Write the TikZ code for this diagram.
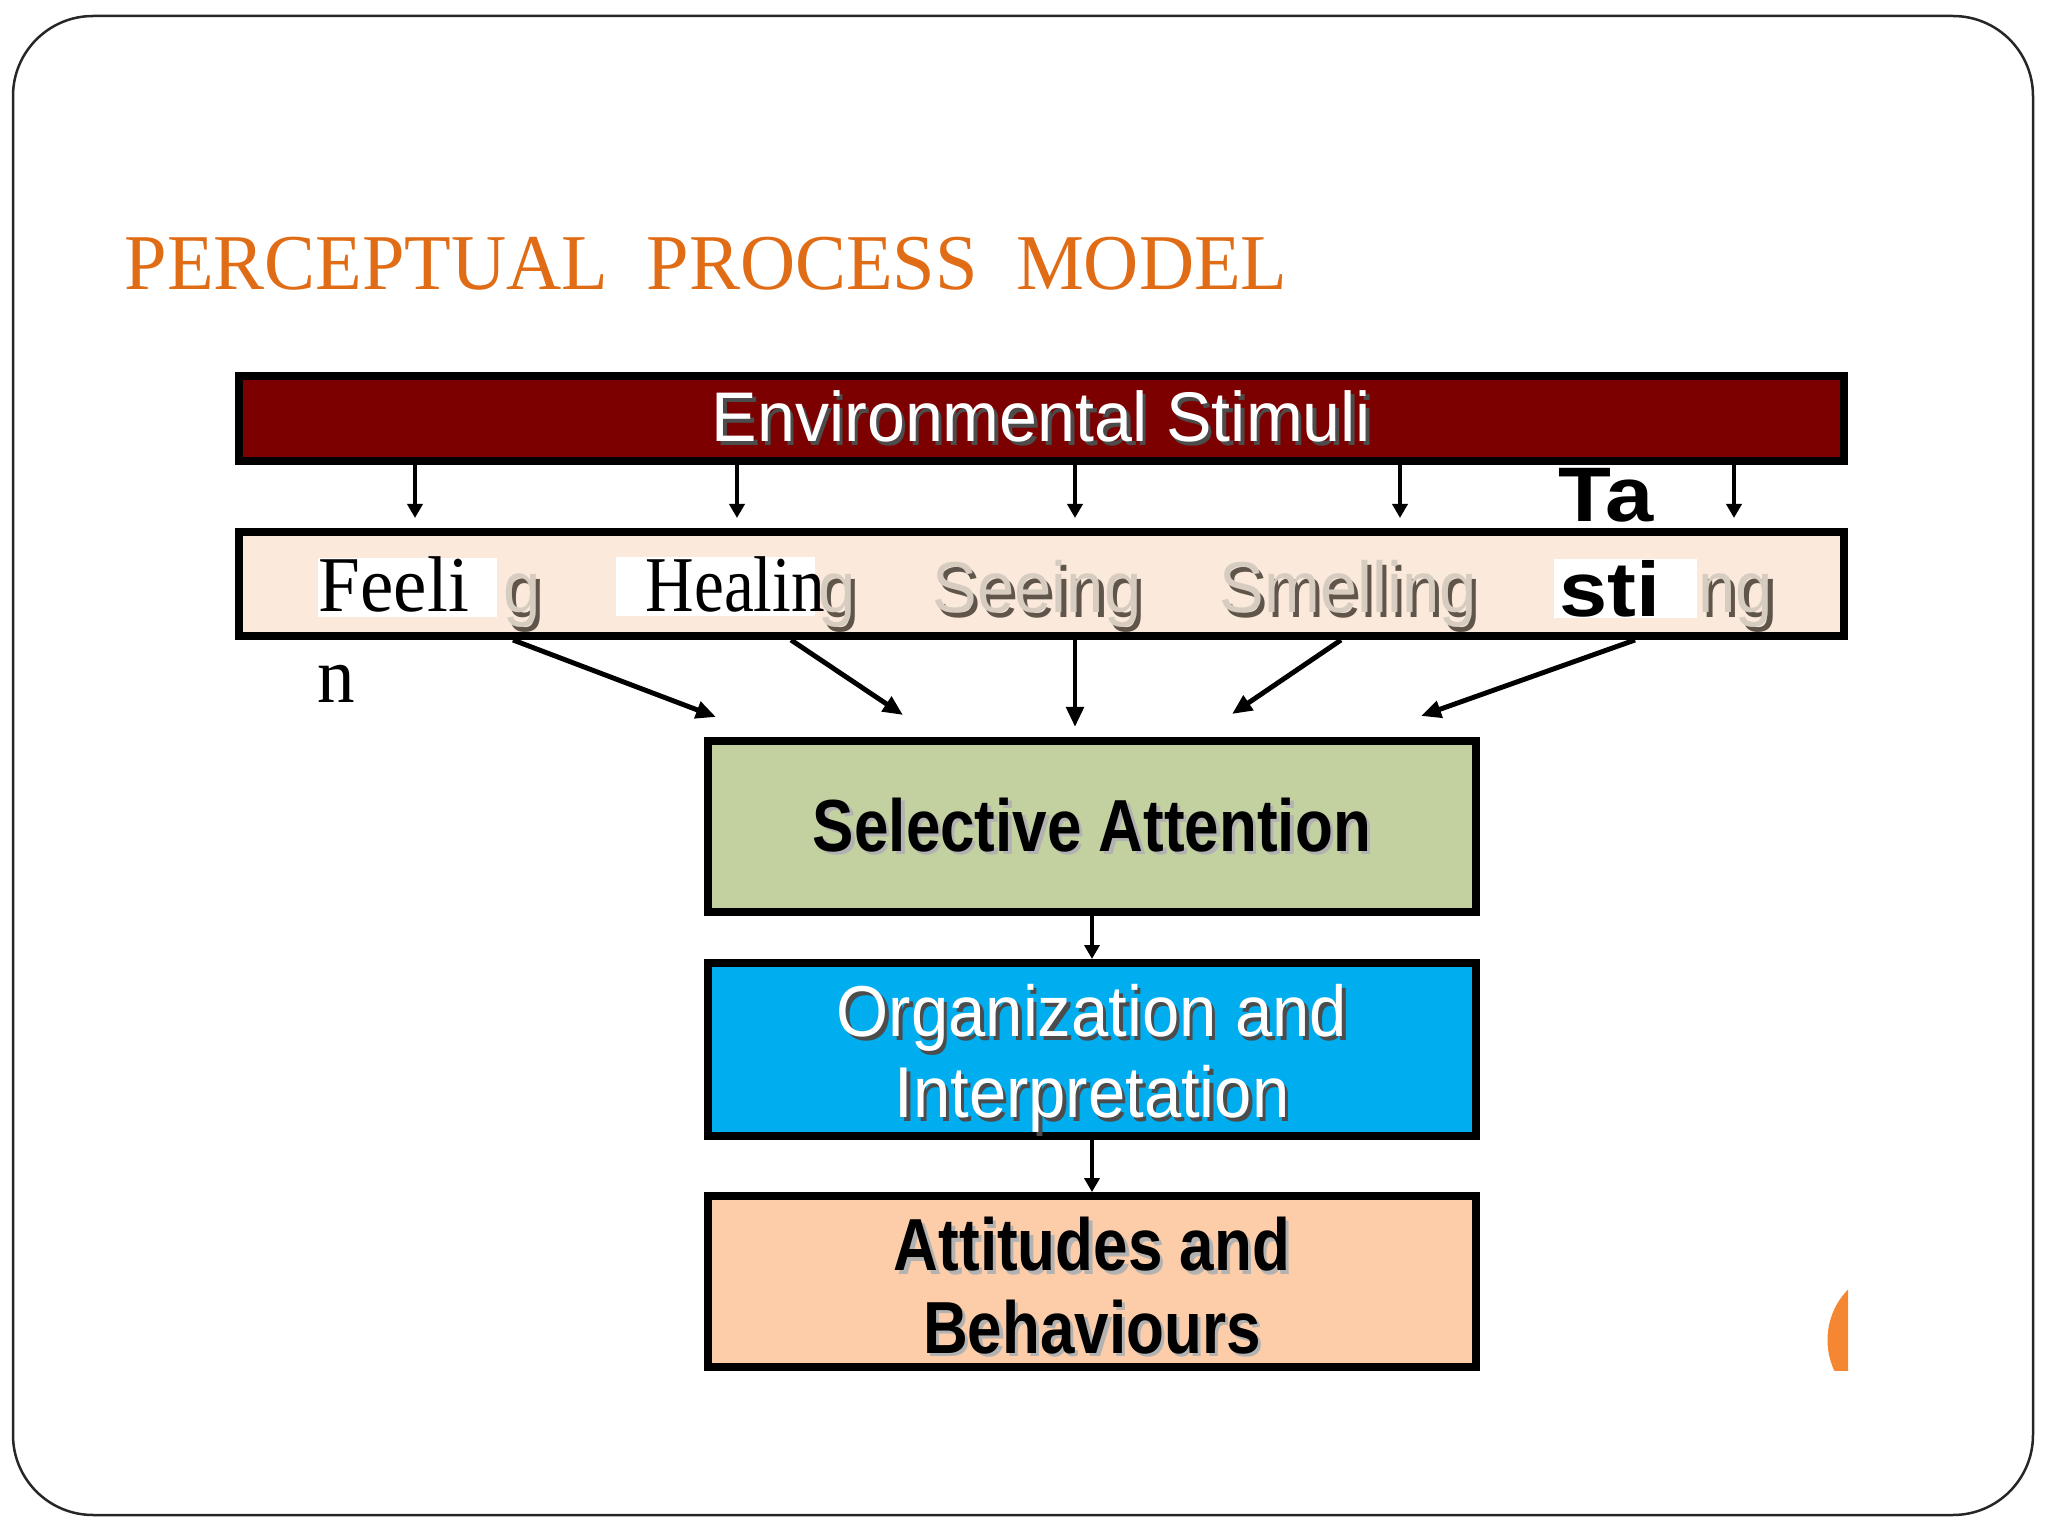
\documentclass[tikz,border=0pt]{standalone}
\usepackage{fontspec}
\setmainfont{Liberation Serif}
\setsansfont{Liberation Sans}
\newfontfamily\titlefont[FakeStretch=0.966]{Liberation Serif}
\newfontfamily\senseserif[FakeStretch=0.95]{Liberation Serif}
\newfontfamily\healserif[FakeStretch=0.85]{Liberation Serif}
\newfontfamily\stimsans[FakeStretch=0.97]{Liberation Sans}
\newfontfamily\boxsans[FakeStretch=0.93]{Liberation Sans}
\newfontfamily\boxbold[FakeStretch=0.84]{Liberation Sans}
\newfontfamily\tastefont[FakeStretch=1.12]{Liberation Sans}
\usetikzlibrary{positioning,arrows.meta}

\definecolor{titleorange}{RGB}{224,108,22}
\definecolor{stimred}{RGB}{125,0,0}
\definecolor{sensepeach}{RGB}{251,233,220}
\definecolor{attngreen}{RGB}{195,208,160}
\definecolor{orgblue}{RGB}{0,174,239}
\definecolor{actpeach}{RGB}{252,205,168}
\definecolor{embface}{RGB}{214,204,192}
\definecolor{embshade}{RGB}{95,85,75}
\definecolor{dotorange}{RGB}{245,135,50}

\newcommand\shadtext[2]{\makebox[0pt][l]{\kern1pt\raisebox{-1pt}{\color{#1}#2}}#2}
\newcommand\emb[1]{\makebox[0pt][l]{\kern1.2pt\raisebox{-1.2pt}{\color{embshade}#1}}{\color{embface}#1}}

\begin{document}
\begin{tikzpicture}[x=1cm,y=1cm,>={Triangle[length=1.4mm,width=1.5mm]}]
\tikzstyle{band}=[draw=black,line width=0.8mm,minimum width=16.05cm,inner sep=0pt]
\tikzstyle{stage}=[draw=black,line width=0.8mm,minimum width=7.68cm,
  minimum height=1.71cm,align=center,inner sep=0pt]
\tikzstyle{word}=[inner sep=0pt,anchor=base west]
\tikzstyle{serifword}=[word,font=\senseserif\fontsize{22.5}{27}\selectfont]
\tikzstyle{embword}=[word,font=\boxsans\fontsize{20.5}{24}\selectfont]
\tikzstyle{tasteword}=[word,font=\tastefont\bfseries\fontsize{22}{26}\selectfont]
\tikzstyle{link}=[->,line width=1.1pt]
\tikzstyle{funnel}=[-{Triangle[length=2mm,width=1.7mm]},line width=1.4pt]

\useasboundingbox (0,0) rectangle (20.48,-15.36);
\draw[black!85,line width=0.25mm,rounded corners=8mm] (0.13,-0.16) rectangle (20.33,-15.15);

\node[word,text=titleorange,font=\titlefont\fontsize{22.5}{27}\selectfont] (title)
  at (1.24,-2.90) {PERCEPTUAL\ \ PROCESS\ \ MODEL};

\node[band,fill=stimred,minimum height=0.85cm,text=white,
  font=\stimsans\fontsize{20}{24}\selectfont] (stimuli) at (10.415,-4.185)
  {\shadtext{black!70}{Environmental Stimuli}};
\node[band,fill=sensepeach,minimum height=1.04cm,below=6.3mm of stimuli] (senses) {};

\fill[white] (3.18,-5.58) rectangle (4.97,-6.17);
\fill[white] (6.16,-5.57) rectangle (8.15,-6.16);
\fill[white] (15.54,-5.59) rectangle (16.97,-6.18);

\node[serifword] (feel) at (3.18,-6.12) {Feeli};
\node[embword] (feelg) at (5.03,-6.13) {\emb{g}};
\node[serifword] (feeln) at (3.17,-7.03) {n};
\node[serifword,font=\healserif\fontsize{22.5}{27}\selectfont] (heal) at (6.45,-6.12) {Healin};
\node[embword] (healg) at (8.18,-6.13) {\emb{g}};
\node[embword] (see) at (9.32,-6.13) {\emb{Seeing}};
\node[embword] (smell) at (12.19,-6.13) {\emb{Smelling}};
\node[tasteword] (tastetop) at (15.58,-5.22) {Ta};
\node[tasteword] (tastemid) at (15.59,-6.17) {sti};
\node[embword] (tasteend) at (16.98,-6.13) {\emb{ng}};

\node[stage,fill=attngreen,below=9.7mm of senses,xshift=5.05mm,
  font=\boxbold\bfseries\fontsize{21}{25}\selectfont] (attn)
  {\shadtext{black!30}{Selective Attention}};
\node[stage,fill=orgblue,below=4.3mm of attn,text=white,
  font=\boxsans\fontsize{20.5}{23}\selectfont] (org)
  {\rule{0pt}{21pt}\shadtext{black!70}{Organization and}\\\shadtext{black!70}{Interpretation}};
\node[stage,fill=actpeach,below=5.2mm of org,
  font=\boxbold\bfseries\fontsize{21}{23.6}\selectfont] (act)
  {\rule{0pt}{18.5pt}\shadtext{black!30}{Attitudes and}\\\shadtext{black!30}{Behaviours}};

\foreach \x in {4.15,7.37,10.75,14.00,17.34}
  \draw[link] (stimuli.south -| \x,0) -- ([yshift=1mm]senses.north -| \x,0);
\foreach \a/\b/\s in {5.13/7.16/2mm,7.91/9.03/2.2mm,10.75/10.75/1mm,
  13.41/12.32/2.3mm,16.35/14.21/2.1mm}
  \draw[funnel] (senses.south -| \a,0) -- ([yshift=\s]attn.north -| \b,0);
\draw[link] (attn) -- (org);
\draw[link] (org) -- (act);

\begin{scope}
\clip (17,-12) rectangle (18.48,-13.70);
\fill[dotorange] (19.00,-13.40) circle (0.725);
\end{scope}
\end{tikzpicture}
\end{document}
